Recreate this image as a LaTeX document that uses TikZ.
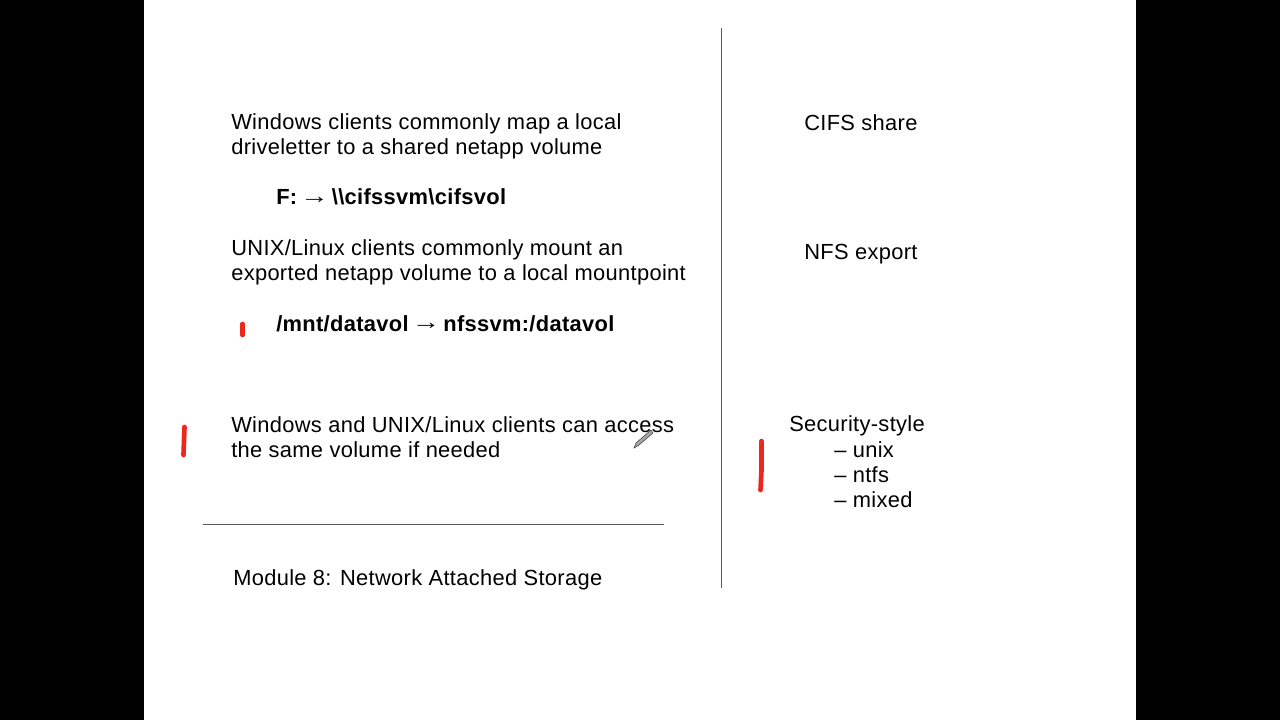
\documentclass[tikz,border=0pt]{standalone}
\usepackage{fontspec}
\setmainfont[LetterSpace=1.5]{Liberation Sans}
\definecolor{penred}{RGB}{236,40,30}
\definecolor{rulegrey}{RGB}{90,90,90}
\newcommand{\patharrow}{\makebox[1em][c]{\raisebox{1.2pt}{\scalebox{1.3}[1]{→}}}}
\tikzset{
	slide text/.style={anchor=base west,inner sep=0pt,font=\fontsize{16.4pt}{19pt}\selectfont},
	slide bold/.style={slide text,font=\fontsize{16.4pt}{19pt}\selectfont\bfseries},
	pen mark/.style={draw=penred,line width=3.5pt,line cap=round},
	slide rule/.style={draw=rulegrey,line width=0.8pt}
}
\begin{document}
\begin{tikzpicture}[x=0.75pt,y=-0.75pt]
	\useasboundingbox (0,0) rectangle (1280,720);
	% black bars left and right
	\fill[black] (0,0) rectangle (144,720);
	\fill[black] (1136,0) rectangle (1280,720);
	% left column
	\node[slide text] (map line1) at (231,130) {Windows clients commonly map a local};
	\node[slide text] (map line2) at (231,155) {driveletter to a shared netapp volume};
	\node[slide bold] (map path) at (276,205) {F: \patharrow{} \textbackslash\textbackslash cifssvm\textbackslash cifsvol};
	\node[slide text] (mount line1) at (231,255.5) {UNIX/Linux clients commonly mount an};
	\node[slide text] (mount line2) at (231,280.5) {exported netapp volume to a local mountpoint};
	\node[slide bold] (mount path) at (276,331) {/mnt/datavol \patharrow{} nfssvm:/datavol};
	\node[slide text] (same line1) at (231,432) {Windows and UNIX/Linux clients can access};
	\node[slide text] (same line2) at (231,457.5) {the same volume if needed};
	\node[slide text] (module) at (233,585) {Module 8: Network Attached Storage};
	% right column
	\node[slide text] (cifs) at (804,130.5) {CIFS share};
	\node[slide text] (nfs) at (804,259.5) {NFS export};
	\node[slide text] (style) at (789,431.5) {Security-style};
	\node[slide text] (style unix) at (834,457) {– unix};
	\node[slide text] (style ntfs) at (834,482) {– ntfs};
	\node[slide text] (style mixed) at (834,507) {– mixed};
	% rules
	\draw[slide rule] (721.5,28) -- (721.5,588);
	\draw[slide rule] (203,524.5) -- (664,524.5);
	% red pen marks
	\draw[pen mark] (242.5,324) -- (242.5,335);
	\draw[pen mark] (184.5,427) -- (183.5,455);
	\draw[pen mark] (761.5,441) -- (761.5,470) -- (760.5,490);
	% pen cursor
	\fill[gray!70,draw=black!75,line width=0.4pt] (651,430) -- (653,433) -- (639,445) -- (634,448) -- (636,443) -- cycle;
\end{tikzpicture}
\end{document}
